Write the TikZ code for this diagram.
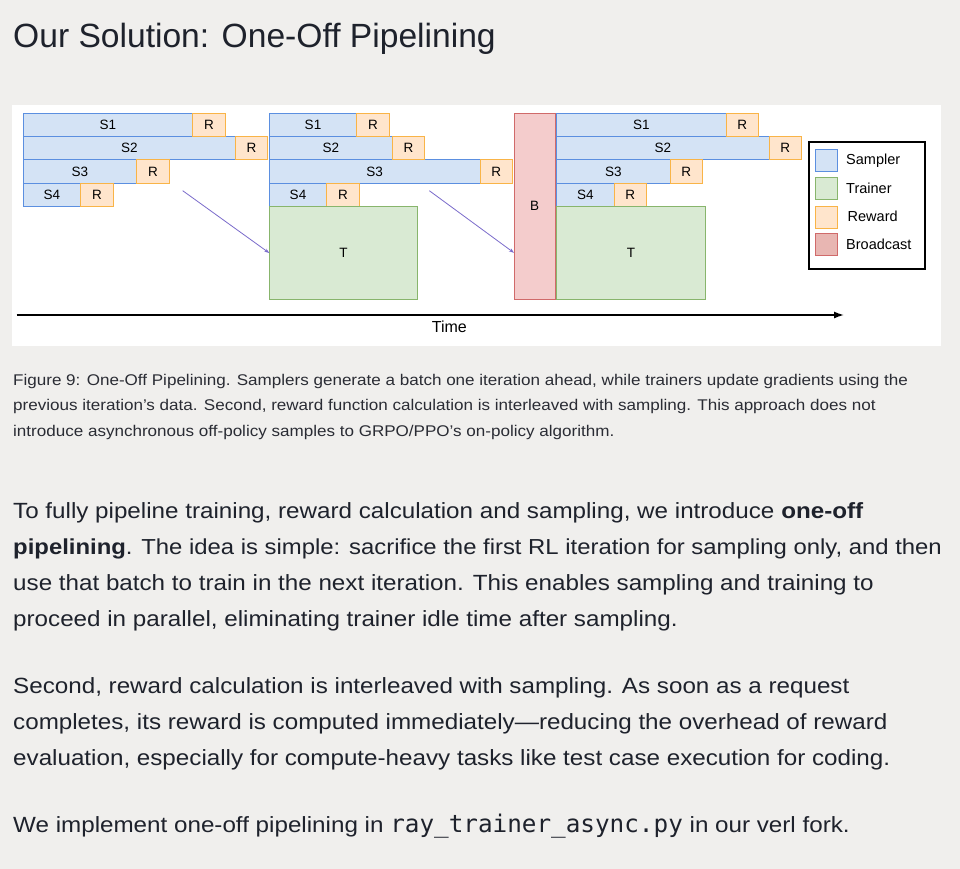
\documentclass[tikz,border=0pt]{standalone}
\usepackage{fontspec}
\setmainfont{Liberation Sans}
\setmonofont{DejaVu Sans Mono}
\newfontfamily\widefont[FakeStretch=1.1]{Liberation Sans}
\usetikzlibrary{calc,positioning,arrows.meta}

\definecolor{pagebg}{HTML}{F0EFED}
\definecolor{inkcol}{HTML}{1E222C}
\definecolor{capcol}{HTML}{2A2C34}
\definecolor{sampfill}{HTML}{D4E3F5}
\definecolor{sampline}{HTML}{5B8FE0}
\definecolor{rewfill}{HTML}{FFE5CC}
\definecolor{rewline}{HTML}{F9B447}
\definecolor{trainfill}{HTML}{D9EAD3}
\definecolor{trainline}{HTML}{88B56C}
\definecolor{bcfill}{HTML}{F4CCCC}
\definecolor{bcline}{HTML}{D06A6A}
\definecolor{bcswatch}{HTML}{E8B6B2}
\definecolor{arrowcol}{HTML}{7A6BCB}

\tikzset{
  box/.style={line width=1pt, inner sep=0pt, outer sep=0pt, text=black,
    font=\fontsize{13.5}{13.5}\selectfont},
  sbar/.style={box, draw=sampline, fill=sampfill, minimum height=23.3pt, anchor=north west},
  rbox/.style={box, draw=rewline, fill=rewfill, minimum width=32.5pt, minimum height=23.3pt},
  tbox/.style={box, draw=trainline, fill=trainfill, minimum width=148.4pt, minimum height=92.6pt, anchor=north west},
  swatch/.style={line width=1pt, minimum width=22pt, minimum height=22pt, inner sep=0pt, anchor=north west},
  legtext/.style={anchor=west, inner sep=0pt, font=\fontsize{14.5}{14.5}\selectfont},
  feed/.style={draw=arrowcol, line width=0.8pt, -{Stealth[length=5pt,width=3.5pt]}},
  bodyline/.style={anchor=base west, inner sep=0pt, text=inkcol, font=\widefont\fontsize{22}{22}\selectfont},
  capline/.style={anchor=base west, inner sep=0pt, text=capcol, font=\widefont\fontsize{15.5}{15.5}\selectfont}
}

\begin{document}
\begin{tikzpicture}[x=1pt,y=-1pt]
  % page and panel
  \fill[pagebg] (0,0) rectangle (960,869);
  \useasboundingbox (0,0) rectangle (960,869);
  \fill[white] (12,105) rectangle (941,346);

  \node[anchor=base west, inner sep=0pt, text=inkcol, font=\fontsize{33.6}{33.6}\selectfont]
    (title) at (13,48) {Our Solution: One-Off Pipelining};

  % first iteration
  \node[sbar, minimum width=169.4pt] (s1a) at (23.3,113.3) {S1};
  \node[sbar, minimum width=212pt]   (s2a) at (23.3,136.6) {S2};
  \node[sbar, minimum width=113.4pt] (s3a) at (23.3,159.9) {S3};
  \node[sbar, minimum width=57.4pt]  (s4a) at (23.3,183.2) {S4};
  \node[rbox, right=0pt of s1a] (r1a) {R};
  \node[rbox, right=0pt of s2a] (r2a) {R};
  \node[rbox, right=0pt of s3a] (r3a) {R};
  \node[rbox, right=0pt of s4a] (r4a) {R};

  % second iteration
  \node[sbar, minimum width=87.4pt]  (s1b) at (269.3,113.3) {S1};
  \node[sbar, minimum width=123pt]   (s2b) at (269.3,136.6) {S2};
  \node[sbar, minimum width=210.7pt] (s3b) at (269.3,159.9) {S3};
  \node[sbar, minimum width=57.4pt]  (s4b) at (269.3,183.2) {S4};
  \node[rbox, right=0pt of s1b] (r1b) {R};
  \node[rbox, right=0pt of s2b] (r2b) {R};
  \node[rbox, right=0pt of s3b] (r3b) {R};
  \node[rbox, right=0pt of s4b] (r4b) {R};
  \node[tbox] (t1) at (269.3,206.7) {T};

  % broadcast
  \node[box, draw=bcline, fill=bcfill, minimum width=41pt, minimum height=186pt, anchor=north west]
    (bc) at (514,113.3) {B};

  % third iteration
  \node[sbar, minimum width=169.3pt] (s1c) at (556.7,113.3) {S1};
  \node[sbar, minimum width=212.3pt] (s2c) at (556.7,136.6) {S2};
  \node[sbar, minimum width=113.3pt] (s3c) at (556.7,159.9) {S3};
  \node[sbar, minimum width=57.3pt]  (s4c) at (556.7,183.2) {S4};
  \node[rbox, right=0pt of s1c] (r1c) {R};
  \node[rbox, right=0pt of s2c] (r2c) {R};
  \node[rbox, right=0pt of s3c] (r3c) {R};
  \node[rbox, right=0pt of s4c] (r4c) {R};
  \node[tbox] (t2) at (556.7,206.7) {T};

  % batches handed on
  \coordinate (fa) at (182.7,190.7);
  \coordinate (fb) at (429.3,190.7);
  \draw[feed] (fa) -- (t1.west);
  \draw[feed] (fb) -- ($(bc.south west)!0.25!(bc.north west)$);

  % time axis
  \coordinate (tl) at (16.7,315);
  \coordinate (tr) at (844,315);
  \draw[line width=1.4pt, -{Latex[length=10pt,width=7pt]}] (tl) -- (tr);
  \node[inner sep=0pt, font=\fontsize{16}{16}\selectfont] (time) at (449.3,326.7) {Time};

  % legend
  \node[draw=black, line width=2pt, minimum width=115.7pt, minimum height=127.6pt,
    inner sep=0pt, anchor=north west] (legend) at (808.3,140.7) {};
  \node[swatch, draw=sampline, fill=sampfill]   (ks) at (815.3,149.3) {};
  \node[swatch, draw=trainline, fill=trainfill] (kt) at (815.3,177.3) {};
  \node[swatch, draw=rewline, fill=rewfill]     (kr) at (815.3,205.5) {};
  \node[swatch, draw=bcline, fill=bcswatch]     (kb) at (815.3,233.3) {};
  \node[legtext] (ls) at (846,160.3) {Sampler};
  \node[legtext] (lt) at (846,188.3) {Trainer};
  \node[legtext] (lr) at (847.5,216.5) {Reward};
  \node[legtext] (lb) at (846,244.3) {Broadcast};

  % caption
  \node[capline] (cap1) at (13,385) {Figure 9: One-Off Pipelining. Samplers generate a batch one iteration ahead, while trainers update gradients using the};
  \node[capline] (cap2) at (13,410.7) {previous iteration’s data. Second, reward function calculation is interleaved with sampling. This approach does not};
  \node[capline] (cap3) at (13,436) {introduce asynchronous off-policy samples to GRPO/PPO’s on-policy algorithm.};

  % body text
  \node[bodyline] (p1a) at (13,518.3) {To fully pipeline training, reward calculation and sampling, we introduce \textbf{one-off}};
  \node[bodyline, font=\widefont\fontsize{21.7}{21.7}\selectfont] (p1b) at (13,554.4) {\textbf{pipelining}. The idea is simple: sacrifice the first RL iteration for sampling only, and then};
  \node[bodyline] (p1c) at (13,590.6) {use that batch to train in the next iteration. This enables sampling and training to};
  \node[bodyline] (p1d) at (13,626.7) {proceed in parallel, eliminating trainer idle time after sampling.};
  \node[bodyline] (p2a) at (13,693.3) {Second, reward calculation is interleaved with sampling. As soon as a request};
  \node[bodyline] (p2b) at (13,729.4) {completes, its reward is computed immediately—reducing the overhead of reward};
  \node[bodyline] (p2c) at (13,765.6) {evaluation, especially for compute-heavy tasks like test case execution for coding.};
  \node[bodyline] (p3a) at (13,832.5) {We implement one-off pipelining in {\ttfamily\fontsize{24.3}{24.3}\selectfont ray\_trainer\_async.py} in our verl fork.};
\end{tikzpicture}
\end{document}
